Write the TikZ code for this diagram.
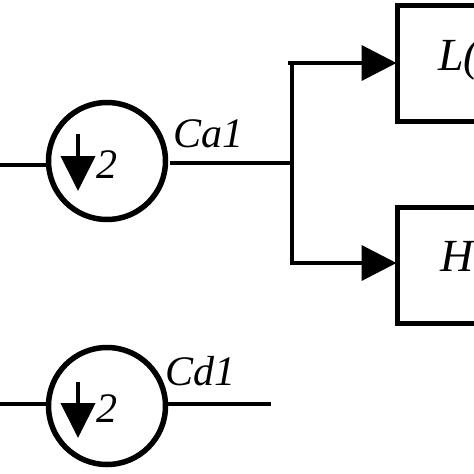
\documentclass[tikz,border=0pt]{standalone}
\usepackage{fontspec}
\setmainfont{Liberation Serif}
\usetikzlibrary{arrows.meta}
\tikzset{
  wire/.style={line width=4pt},
  flowarrow/.style={wire,shorten >=-2pt,-{Triangle[length=35pt,width=35pt]}},
  downarrow/.style={line width=4pt,-{Triangle[length=35pt,width=34pt]}},
  downcircle/.style={circle,draw,line width=5.5pt,minimum size=117pt,inner sep=0pt},
  filterbox/.style={rectangle,draw,line width=5pt,minimum width=240pt,minimum height=116.5pt,anchor=north west,inner sep=0pt},
  label/.style={font=\fontsize{42}{42}\selectfont\itshape,inner sep=0pt,anchor=base west}
}
\begin{document}
\begin{tikzpicture}[x=1pt,y=-1pt]
  \useasboundingbox (0,0) rectangle (474,474);
  \clip (0,0) rectangle (474,474);
  % downsampling circles
  \node[downcircle] (dsa) at (107,161) {};
  \node[downcircle] (dsd) at (107,406) {};
  \draw[downarrow] (78,134) coordinate (dsatop) -- (78,191) coordinate (dsatip);
  \draw[downarrow] (78,382) coordinate (dsdtop) -- (78,438) coordinate (dsdtip);
  \node[label] (twoa) at (96,178) {2};
  \node[label] (twod) at (96,422) {2};
  % filter blocks
  \node[filterbox] (lowbox) at (394.5,2.5) {};
  \node[filterbox] (highbox) at (394.5,204.5) {};
  \node[label,font=\fontsize{46}{46}\selectfont\itshape] (lowtext) at (438,70) {L(};
  \node[label,font=\fontsize{46}{46}\selectfont\itshape] (hightext) at (440,271) {H};
  % inputs
  \coordinate (ina) at (0,165);
  \coordinate (ind) at (0,404);
  \draw[wire] (ina) -- (dsa.west |- ina);
  \draw[wire] (ind) -- (dsd.west |- ind);
  % branch
  \coordinate (junc) at (292,163);
  \coordinate (juntop) at (288,63);
  \coordinate (junbot) at (290,263);
  \draw[wire,shorten <=2pt] (dsa.east |- junc) -- (junc);
  \draw[wire] (292,63) -- (292,263);
  \draw[flowarrow] (juntop) -- (lowbox.west |- juntop);
  \draw[flowarrow] (junbot) -- (highbox.west |- junbot);
  % detail output
  \coordinate (outd) at (271,404);
  \draw[wire] (dsd.east |- outd) -- (outd);
  \node[label] (catext) at (173,147) {Ca1};
  \node[label] (cdtext) at (165,385) {Cd1};
\end{tikzpicture}
\end{document}
